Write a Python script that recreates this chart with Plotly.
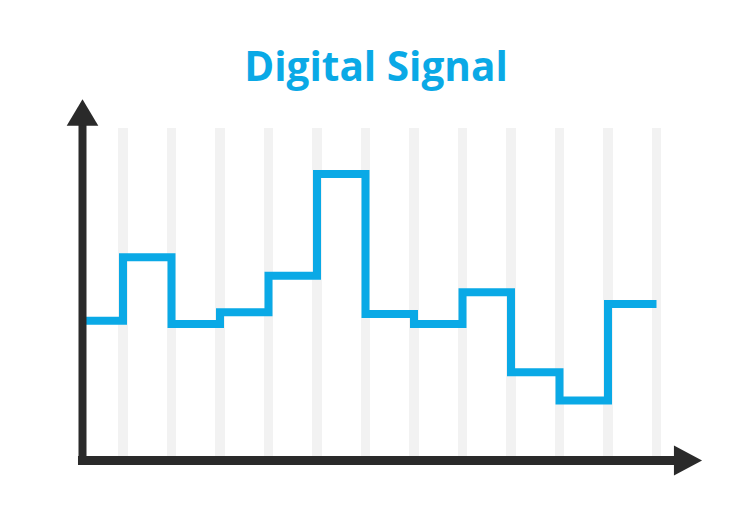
import plotly.graph_objects as go

# sample slots (stripes) and the signal level held in each slot
slots = list(range(1, 13))
levels = [4.2, 6.1, 4.1, 4.45, 5.55, 8.6, 4.4, 4.1, 5.05, 2.65, 1.8, 4.7]
stripe_top = 10
title_text = "Digital Signal"

blue = "#0AA9E6"
dark = "#2A2A2A"

t0 = 0.165  # where the vertical axis sits
step_x = [t0] + slots
step_y = levels + [levels[-1]]

# page body adds an 8px offset, compensate in the axis ranges
off = 8

fig = go.Figure()

# light grey time stripes
fig.add_trace(go.Bar(x=slots, y=[stripe_top] * len(slots), width=0.186,
                     marker=dict(color="#F2F2F2", line_width=0),
                     hoverinfo="skip"))

# the digital signal
fig.add_trace(go.Scatter(x=step_x, y=step_y, mode="lines",
                         line=dict(color=blue, width=8, shape="hv"),
                         hoverinfo="skip"))

# axes with arrowheads
fig.add_shape(type="line", x0=t0, x1=t0, y0=-0.135, y1=10.1,
              line=dict(color=dark, width=8))
fig.add_shape(type="line", x0=0.072, x1=12.4, y0=0, y1=0,
              line=dict(color=dark, width=9))
fig.add_shape(type="path",
              path=f"M {t0 - 0.326},10.05 L {t0},10.85 L {t0 + 0.326},10.05 Z",
              fillcolor=dark, line_width=0)
fig.add_shape(type="path",
              path="M 12.36,0.45 L 12.94,0 L 12.36,-0.45 Z",
              fillcolor=dark, line_width=0)

fig.update_layout(
    width=742, height=529,
    margin=dict(l=0, r=0, t=0, b=0),
    paper_bgcolor="white", plot_bgcolor="white",
    showlegend=False,
    title=dict(text=f"<b>{title_text}</b>", x=(376 - off) / 742, xanchor="center",
               y=1 - (67 - off) / 529, yanchor="middle",
               font=dict(family="Open Sans", size=40.5, color=blue)),
    xaxis=dict(range=[-(74.5 - off) / 48.5, (742 - 74.5 + off) / 48.5], visible=False),
    yaxis=dict(range=[(460.5 - off - 529) / 33.3, (460.5 - off) / 33.3], visible=False),
    bargap=0,
)

fig.write_html("out.html")
